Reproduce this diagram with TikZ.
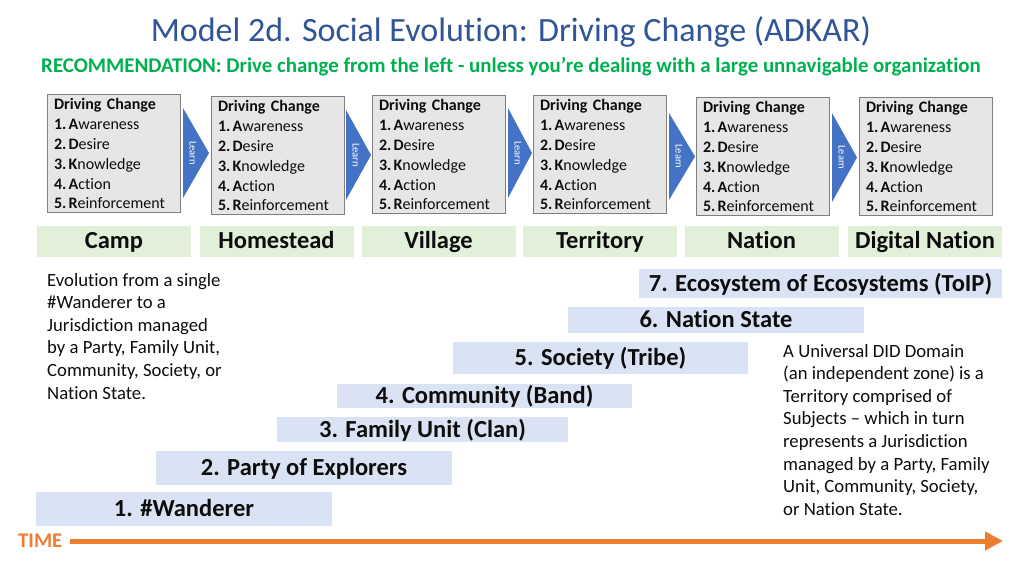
\documentclass[tikz,border=0pt]{standalone}
\usepackage{fontspec}
\setmainfont{Carlito}[Ligatures={NoCommon,NoContextual,NoRare}]
\usetikzlibrary{arrows.meta}
\definecolor{titleblue}{HTML}{2F5597}
\definecolor{recgreen}{HTML}{00B050}
\definecolor{boxfill}{HTML}{E7E6E6}
\definecolor{boxline}{HTML}{7F7F7F}
\definecolor{learnblue}{HTML}{4472C4}
\definecolor{bandgreen}{HTML}{E2F0D9}
\definecolor{barblue}{HTML}{DAE3F3}
\definecolor{timeorange}{HTML}{ED7D31}
\definecolor{txt}{HTML}{0D0D0D}
\newcommand\num[1]{\makebox[14.5pt][l]{\textbf{#1}}}
\newcommand\dcitems{%
\textbf{Driving Change}\\
\num{1.}\textbf{A}wareness\\
\num{2.}\textbf{D}esire\\
\num{3.}\textbf{K}nowledge\\
\num{4.}\textbf{A}ction\\
\num{5.}\textbf{R}einforcement}
\newcommand\learnarrow[5]{%
\fill[learnblue] (#1,#3) -- (#2,{(#3+#4)/2}) -- (#1,#4) -- cycle;
\node[learntext] (#5) at ({#1+10},{(#3+#4)/2}) {Learn};}
\begin{document}
\begin{tikzpicture}[x=1pt,y=-1pt,
  dcbox/.style={draw=boxline,line width=1.2pt,fill=boxfill,anchor=north west,
    minimum width=133pt,minimum height=118pt,text width=120pt,inner xsep=6.5pt,
    align=left,text=txt,font=\fontsize{16}{19.9}\selectfont},
  learntext/.style={rotate=-90,text=white,font=\fontsize{10.5}{12}\selectfont,inner sep=0pt},
  band/.style={fill=bandgreen,minimum width=154pt,minimum height=31pt,inner sep=0pt,
    text height=18pt,text depth=2.4pt,
    text=txt,font=\fontsize{24.5}{28}\selectfont\bfseries},
  stagebar/.style={fill=barblue,inner sep=0pt,text height=18pt,text depth=2.4pt,
    text=txt,font=\fontsize{24.5}{28}\selectfont\bfseries},
  para/.style={anchor=north west,inner sep=0pt,align=left,text=txt,font=\fontsize{18.7}{22.6}\selectfont}
]
\useasboundingbox[fill=white] (0,0) rectangle (1023,566);
% title
\node[text=titleblue,font=\fontsize{34}{40}\selectfont] (title) at (511,32) {Model 2d. Social Evolution: Driving Change (ADKAR)};
\node[text=recgreen,font=\fontsize{20.9}{24}\selectfont\bfseries] (rec) at (511,67) {RECOMMENDATION: Drive change from the left - unless you’re dealing with a large unnavigable organization};
% boxes
\node[dcbox] (b1) at (47,94) {\dcitems};
\node[dcbox] (b2) at (211,96) {\dcitems};
\node[dcbox] (b3) at (372,95) {\dcitems};
\node[dcbox] (b4) at (533,95) {\dcitems};
\node[dcbox] (b5) at (696,97) {\dcitems};
\node[dcbox] (b6) at (859,97) {\dcitems};
% learn arrows
\learnarrow{183}{209}{108}{198}{l1}
\learnarrow{346}{371}{110}{200}{l2}
\learnarrow{508}{532}{108}{198}{l3}
\learnarrow{669}{695}{113}{200}{l4}
\learnarrow{832}{857}{113}{202}{l5}
% bands
\node[band] (camp) at (114,241) {Camp};
\node[band] (home) at (276.5,241) {Homestead};
\node[band] (vill) at (438.5,241) {Village};
\node[band] (terr) at (600,241) {Territory};
\node[band] (nat) at (761.5,241) {Nation};
\node[band] (dig) at (925,241) {Digital Nation};
% stage bars
\node[stagebar,minimum width=296pt,minimum height=34pt] (s1) at (184,509) {1. \#Wanderer};
\node[stagebar,minimum width=296pt,minimum height=34pt] (s2) at (304,468) {2. Party of Explorers};
\node[stagebar,minimum width=291pt,minimum height=25pt] (s3) at (422.5,429.5) {3. Family Unit (Clan)};
\node[stagebar,minimum width=295pt,minimum height=24pt] (s4) at (484.5,396) {4. Community (Band)};
\node[stagebar,minimum width=295pt,minimum height=32pt] (s5) at (600.5,358) {5. Society (Tribe)};
\node[stagebar,minimum width=296pt,minimum height=26pt] (s6) at (716,320) {6. Nation State};
\node[stagebar,minimum width=363pt,minimum height=29pt] (s7) at (820.5,283.5) {7. Ecosystem of Ecosystems (ToIP)};
% paragraphs
\node[para] (lp) at (47,273) {Evolution from a single\\\#Wanderer to a\\Jurisdiction managed\\by a Party, Family Unit,\\Community, Society, or\\Nation State.};
\node[para] (rp) at (783,344) {A Universal DID Domain\\(an independent zone) is a\\Territory comprised of\\Subjects – which in turn\\represents a Jurisdiction\\managed by a Party, Family\\Unit, Community, Society,\\or Nation State.};
% time
\node[text=timeorange,font=\fontsize{20.8}{24}\selectfont\bfseries,anchor=west,inner sep=0pt] (time) at (18,541) {TIME};
\coordinate (tend) at (1003,541);
\draw[timeorange,line width=5pt,-{Triangle[length=18pt,width=18pt]}] (70,541) -- (tend);
\end{tikzpicture}
\end{document}
